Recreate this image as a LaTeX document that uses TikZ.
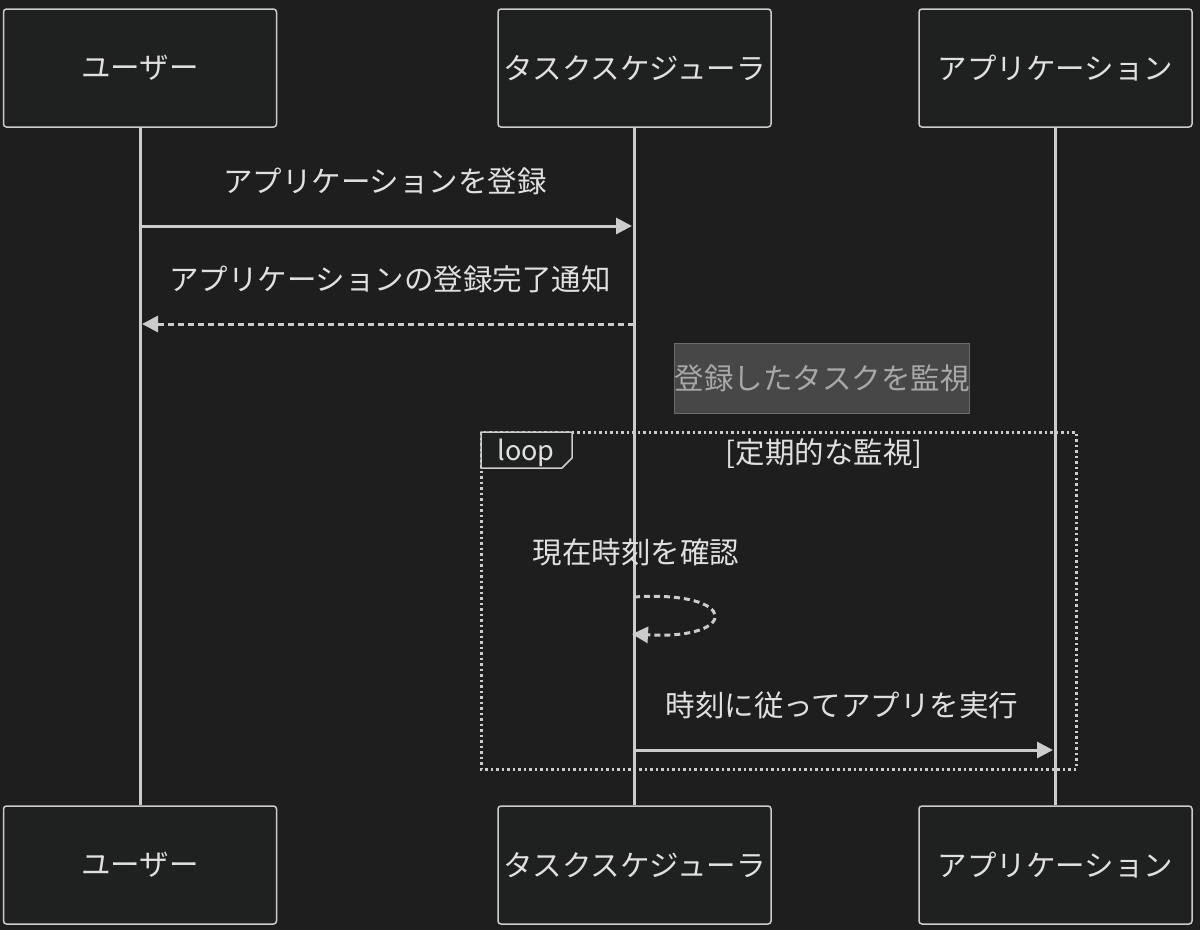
\documentclass[tikz,border=0pt]{standalone}
\usepackage{fontspec}
\setmainfont{Noto Sans CJK JP}
\usetikzlibrary{arrows.meta}
\definecolor{bg}{HTML}{1E1E1E}
\definecolor{boxf}{HTML}{1F2020}
\definecolor{ln}{HTML}{CCCCCC}
\definecolor{tx}{HTML}{E0E0E0}
\definecolor{notef}{HTML}{474747}
\begin{document}
\begin{tikzpicture}[x=1pt,y=-1pt,
  actor/.style={draw=ln,fill=boxf,line width=1.5pt,rounded corners=3pt,minimum width=273pt,minimum height=118pt,text=tx,font=\fontsize{29.5}{33}\selectfont},
  lbl/.style={text=tx,font=\fontsize{29.5}{33}\selectfont},
  msg/.style={draw=ln,line width=3pt,-{Triangle[length=16pt,width=16pt]}}]
\fill[bg] (0,0) rectangle (1200,930);
\useasboundingbox (0,0) rectangle (1200,930);
\foreach \n/\x/\t in {u/140/ユーザー,s/634.5/タスクスケジューラ,a/1055.5/アプリケーション}{
  \node[actor] (\n t) at (\x,68) {\t};
  \node[actor] (\n b) at (\x,865) {\t};
  \draw[ln,line width=3pt] (\n t.south) -- (\n b.north);
}
\coordinate (u1) at (140,226); \coordinate (s1) at (632,226);
\draw[msg] (u1) -- (s1);
\node[lbl] (m1) at (385,181) {アプリケーションを登録};
\coordinate (s2) at (634,324); \coordinate (u2) at (142,324);
\draw[msg,dash pattern=on 6pt off 4pt] (s2) -- (u2);
\node[lbl] (m2) at (390,279) {アプリケーションの登録完了通知};
\node[fill=notef,draw=notef!80!white,inner sep=0pt,minimum width=285pt,minimum height=70pt,text=tx!75!black,font=\fontsize{29.5}{33}\selectfont] (note) at (822,378) {登録したタスクを監視};
\draw[ln,line width=3pt,dash pattern=on 2.5pt off 3pt] (481,432) rectangle (1076,769);
\draw[ln,line width=1.5pt,fill=boxf] (481,432) -- (572,432) -- (572,458) -- (562,468) -- (481,468) -- cycle;
\node[lbl,font=\fontsize{27}{30}\selectfont] (lp) at (526,453) {loop};
\node[lbl] (cond) at (824,454) {[定期的な監視]};
\node[lbl] (m3) at (636,552) {現在時刻を確認};
\coordinate (c1) at (634,597); \coordinate (c2) at (632,634);
\draw[msg,dash pattern=on 6pt off 4pt] (c1) .. controls (740,590) and (740,640) .. (c2);
\coordinate (s4) at (634,750); \coordinate (a4) at (1053,750);
\draw[msg] (s4) -- (a4);
\node[lbl] (m4) at (842,705) {時刻に従ってアプリを実行};
\end{tikzpicture}
\end{document}
